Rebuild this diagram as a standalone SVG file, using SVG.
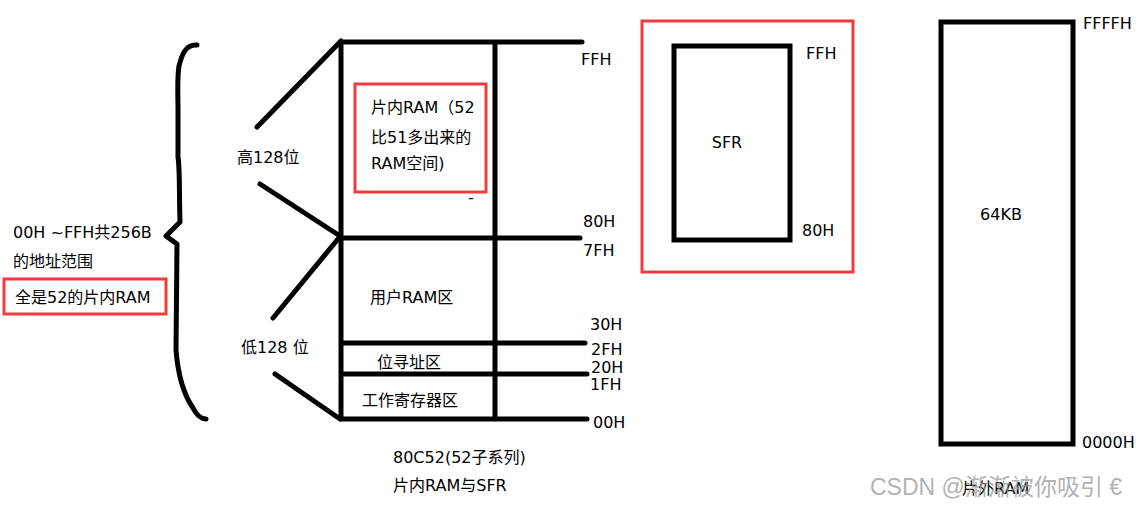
<svg xmlns="http://www.w3.org/2000/svg" width="1145" height="507" viewBox="0 0 1145 507">
<style>
text{font-family:"DejaVu Sans","Noto Sans CJK SC",sans-serif;font-size:16px;fill:#000}
.k{stroke:#000;stroke-width:5;fill:none;stroke-linecap:round;stroke-linejoin:round}
.r{stroke:#f03c3c;stroke-width:3;fill:none}
.wm{font-family:"Liberation Sans","Noto Sans CJK SC",sans-serif;font-size:23px;fill:#999;opacity:0.75}
</style>
<rect width="1145" height="507" fill="#fff"/>
<g id="connectors">
<path class="k" d="M341,41 L257,127"/>
<path class="k" d="M260,184 L340,236"/>
<path class="k" d="M338,239 L273,318"/>
<path class="k" d="M275,374 L340,419"/>
<path class="k" d="M197,45 C186,44 182,54 179,66 C177,78 178,95 178,110 L178,157 C180,170 179,190 180,222 L166,236 L177,244 L176,350 C178,375 184,395 193,408 C196,414 200,419 206,419"/>
</g>
<g id="left-label">
<text x="13" y="238">00H ~FFH共256B</text>
<text x="13" y="267">的地址范围</text>
<rect class="r" x="4" y="279" width="162" height="35"/>
<text x="15" y="303">全是52的片内RAM</text>
</g>
<g id="hi-label"><text x="237" y="163">高128位</text></g>
<g id="lo-label"><text x="241" y="353">低128 位</text></g>
<g id="internal-ram">
<path class="k" d="M341,42 L341,419 M495,42 L495,419 M341,42 L582,42 M341,238 L580,238 M341,343 L585,343 M341,374 L587,374 M341,419 L587,419"/>
<rect class="r" x="355" y="84" width="131" height="108"/>
<text x="371" y="113">片内RAM（52</text>
<text x="371" y="143">比51多出来的</text>
<text x="371" y="169">RAM空间)</text>
<text x="468" y="203" font-size="10">-</text>
<text x="370" y="303">用户RAM区</text>
<text x="377" y="368">位寻址区</text>
<text x="362" y="406">工作寄存器区</text>
<text x="581" y="65">FFH</text>
<text x="583" y="227">80H</text>
<text x="583" y="256">7FH</text>
<text x="590" y="330">30H</text>
<text x="591" y="355">2FH</text>
<text x="591" y="373">20H</text>
<text x="590" y="390">1FH</text>
<text x="593" y="428">00H</text>
<text x="393" y="463">80C52(52子系列)</text>
<text x="393" y="491">片内RAM与SFR</text>
</g>
<g id="sfr">
<rect class="r" x="642" y="21" width="211" height="251"/>
<rect x="674" y="46" width="116" height="194" stroke="#000" stroke-width="5" fill="none"/>
<text x="727" y="148" text-anchor="middle">SFR</text>
<text x="806" y="59">FFH</text>
<text x="802" y="236">80H</text>
</g>
<g id="external-ram">
<rect x="941" y="22" width="132" height="422" stroke="#000" stroke-width="5" fill="none"/>
<text x="1001" y="220" text-anchor="middle">64KB</text>
<text x="1083" y="29">FFFFH</text>
<text x="1082" y="448">0000H</text>
<text x="962" y="494">片外RAM</text>
<text class="wm" x="870" y="495">CSDN @渐渐被你吸引 €</text>
</g>
</svg>
